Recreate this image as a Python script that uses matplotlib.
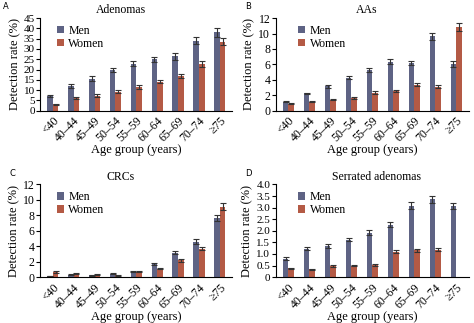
import numpy as np
import matplotlib
matplotlib.use('Agg')
import matplotlib.pyplot as plt

plt.rcParams['font.family'] = ['Liberation Serif', 'DejaVu Serif']

# Data
groups = ['<40', '40\u201344', '45\u201349', '50\u201354', '55\u201359',
          '60\u201364', '65\u201369', '70\u201374', '\u226575']

adenomas_men = [7.0, 12.0, 15.6, 19.7, 22.9, 24.9, 26.4, 34.1, 38.1]
adenomas_men_err = [0.5, 0.8, 1.2, 1.0, 1.1, 1.4, 1.6, 1.8, 2.2]
adenomas_women = [3.2, 6.2, 7.4, 9.3, 11.6, 14.1, 16.9, 22.7, 33.6]
adenomas_women_err = [0.3, 0.6, 0.7, 0.6, 0.8, 0.8, 1.2, 1.3, 1.7]

aas_men = [1.2, 2.25, 3.15, 4.3, 5.3, 6.35, 6.2, 9.65, 6.1]
aas_men_err = [0.1, 0.1, 0.15, 0.2, 0.3, 0.3, 0.3, 0.45, 0.4]
aas_women = [0.9, 1.2, 1.45, 1.65, 2.35, 2.6, 3.4, 3.1, 10.8]
aas_women_err = [0.08, 0.08, 0.1, 0.12, 0.15, 0.15, 0.25, 0.2, 0.5]

crcs_men = [0.15, 0.3, 0.25, 0.45, 0.75, 1.75, 3.15, 4.6, 7.7]
crcs_men_err = [0.05, 0.05, 0.05, 0.08, 0.08, 0.12, 0.2, 0.3, 0.4]
crcs_women = [0.65, 0.5, 0.35, 0.25, 0.7, 1.1, 2.2, 3.7, 9.1]
crcs_women_err = [0.08, 0.06, 0.05, 0.05, 0.08, 0.1, 0.18, 0.2, 0.45]

serr_men = [0.8, 1.23, 1.35, 1.62, 1.92, 2.27, 3.08, 3.37, 3.07]
serr_men_err = [0.05, 0.06, 0.08, 0.08, 0.1, 0.1, 0.15, 0.15, 0.15]
serr_women = [0.38, 0.33, 0.47, 0.5, 0.53, 1.1, 1.15, 1.18, 0.0]
serr_women_err = [0.03, 0.02, 0.04, 0.04, 0.04, 0.07, 0.07, 0.06, 0.0]

men_color = '#5e6384'
women_color = '#b45a45'

# letter, title, men, men err, women, women err, yticks, ymax, axes box, title x, legend x, letter xy
panels = [
    ('A', 'Adenomas', adenomas_men, adenomas_men_err, adenomas_women, adenomas_women_err,
     np.arange(0, 46, 5), 45, [0.085, 0.657, 0.405, 0.287], 0.42, 0.06, (0.006, 0.995)),
    ('B', 'AAs', aas_men, aas_men_err, aas_women, aas_women_err,
     np.arange(0, 13, 2), 12, [0.582, 0.657, 0.407, 0.287], 0.47, 0.09, (0.518, 0.995)),
    ('C', 'CRCs', crcs_men, crcs_men_err, crcs_women, crcs_women_err,
     np.arange(0, 13, 2), 12, [0.085, 0.142, 0.405, 0.287], 0.42, 0.06, (0.019, 0.478)),
    ('D', 'Serrated adenomas', serr_men, serr_men_err, serr_women, serr_women_err,
     np.arange(0, 4.1, 0.5), 4.0, [0.582, 0.142, 0.407, 0.287], 0.52, 0.09, (0.518, 0.478)),
]

fig = plt.figure(figsize=(4.74, 3.23), dpi=100)
x = np.arange(len(groups))
w = 0.27

for letter, title, m, me, f, fe, ticks, ymax, pos, tx, lx, lxy in panels:
    ax = fig.add_axes(pos)
    ekw = dict(ecolor='#333333', elinewidth=0.8, capsize=2, capthick=0.8)
    ax.bar(x - w / 2, m, w, color=men_color, yerr=me, error_kw=ekw, label='Men')
    fmask = np.array(f) > 0
    ax.bar(x[fmask] + w / 2, np.array(f)[fmask], w, color=women_color,
           yerr=np.array(fe)[fmask], error_kw=ekw, label='Women')
    ax.set_xlim(-0.6, len(groups) - 0.4)
    ax.set_ylim(0, ymax)
    ax.set_yticks(ticks)
    if ymax == 4.0:
        ax.set_yticklabels(['0'] + ['%.1f' % t for t in ticks[1:]])
    ax.set_xticks(x)
    ax.set_xticklabels(groups, rotation=45, ha='right', rotation_mode='anchor')
    ax.tick_params(axis='y', labelsize=8 if len(ticks) > 7 else 8.5, length=3, width=0.8, pad=1)
    ax.tick_params(axis='x', labelsize=8.5, length=0, pad=3)
    for s in ['top', 'right']:
        ax.spines[s].set_visible(False)
    ax.spines['left'].set_linewidth(0.8)
    ax.spines['bottom'].set_linewidth(0.8)
    ax.set_ylabel('Detection rate (%)', fontsize=9, labelpad=2)
    ax.set_xlabel('Age group (years)', fontsize=9, labelpad=0)
    ax.text(tx, 1.02, title, transform=ax.transAxes, ha='center', va='bottom', fontsize=8.5)
    ax.legend(loc='upper left', bbox_to_anchor=(lx, 0.98), frameon=False, fontsize=8.5,
              handlelength=0.6, handleheight=0.6, handletextpad=0.4, labelspacing=0.1,
              borderaxespad=0)
    fig.text(lxy[0], lxy[1], letter, fontsize=6, family='DejaVu Sans', ha='left', va='top')

fig.savefig('out.png', dpi=100)
